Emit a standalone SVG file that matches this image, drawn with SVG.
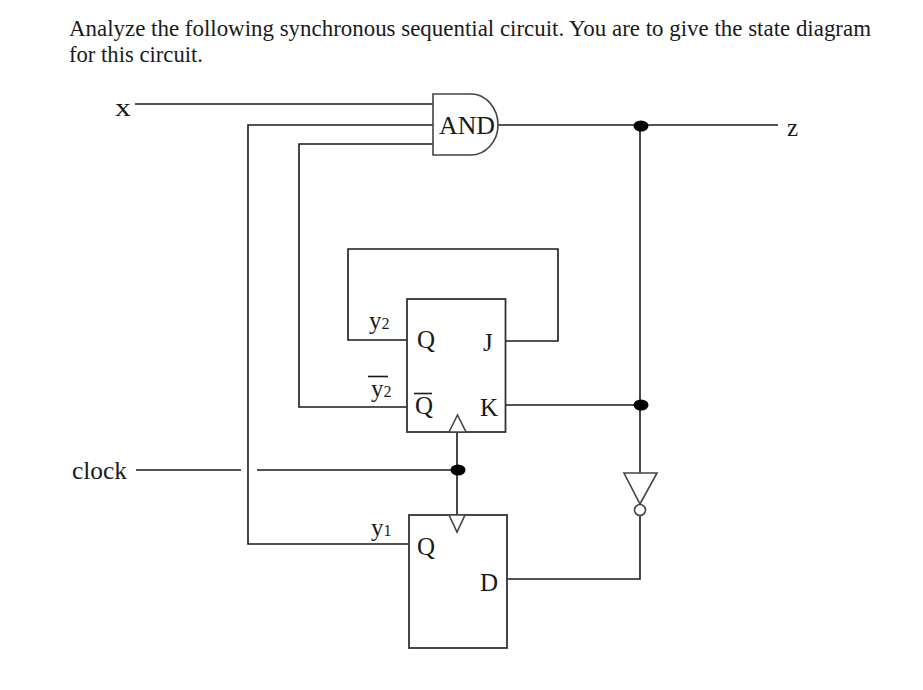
<svg xmlns="http://www.w3.org/2000/svg" width="923" height="690" viewBox="0 0 923 690">
<style>
.w{fill:none;stroke:#1a1a1a;stroke-width:1.6}
.b{fill:#fff;stroke:#333;stroke-width:1.8}
.g{fill:#fff;stroke:#444;stroke-width:1.6}
.d{fill:#000}
text{font-family:"Liberation Serif","Times New Roman",serif;fill:#1a1a1a}
.p{font-size:22.5px}
.l{font-size:25px}
.y{font-size:25px}
.u{font-size:16px}
</style>
<rect width="923" height="690" fill="#fff"/>
<text class="p" x="69" y="36" textLength="802" lengthAdjust="spacingAndGlyphs">Analyze the following synchronous sequential circuit. You are to give the state diagram</text>
<text class="p" x="69" y="62" textLength="134" lengthAdjust="spacingAndGlyphs">for this circuit.</text>
<g id="connectors">
<path class="w" d="M135 104H433"/>
<path class="w" d="M433 125H248V544H408"/>
<path class="w" d="M433 144H299V407H407"/>
<path class="w" d="M498 125H778"/>
<path class="w" d="M640 125V473"/>
<path class="w" d="M640 514V579H507"/>
<path class="w" d="M506 405H640"/>
<path class="w" d="M407 340H348V249H558V341H506"/>
<path class="w" d="M136 470H241"/>
<path class="w" d="M257 470H458"/>
<path class="w" d="M457 432V514"/>
<ellipse class="d" cx="641" cy="126" rx="7.500" ry="5.500"/>
<ellipse class="d" cx="641" cy="405" rx="7.500" ry="5.500"/>
<ellipse class="d" cx="458" cy="470" rx="7.500" ry="5.500"/>
</g>
<g id="input-x"><text class="l" x="115" y="116" font-size="26" textLength="16" lengthAdjust="spacingAndGlyphs">x</text></g>
<g id="input-clock"><text class="l" x="72" y="479" textLength="55" lengthAdjust="spacingAndGlyphs">clock</text></g>
<g id="output-z"><text class="l" x="787" y="136">z</text></g>
<g id="and-gate">
<path class="g" d="M433 94H471C486 94 498 108 498 125C498 141 486 155 471 155H433Z"/>
<text class="l" x="439" y="134" textLength="56" lengthAdjust="spacingAndGlyphs">AND</text>
</g>
<g id="jk-flipflop">
<rect class="b" x="407" y="299" width="98.500" height="133"/>
<path class="g" d="M449 432L457.500 415L466 432Z"/>
<text class="l" x="417" y="348">Q</text>
<text class="l" x="483" y="351">J</text>
<text class="l" x="415" y="414">Q</text>
<path class="w" d="M414 393.500H432"/>
<text class="l" x="480" y="416">K</text>
<text class="y" x="369" y="329">y<tspan class="u">2</tspan></text>
<text class="y" x="371" y="397">y<tspan class="u">2</tspan></text>
<path class="w" d="M368 376.500H388"/>
</g>
<g id="d-flipflop">
<rect class="b" x="409" y="515" width="98" height="133"/>
<path class="g" d="M449 515L457 532L465 515Z"/>
<text class="l" x="417" y="555">Q</text>
<text class="l" x="480" y="591">D</text>
<text class="y" x="371" y="536">y<tspan class="u">1</tspan></text>
</g>
<g id="inverter">
<path class="g" d="M624 473H657L640 504Z"/>
<circle class="g" cx="640" cy="510" r="5.500"/>
</g>
</svg>
